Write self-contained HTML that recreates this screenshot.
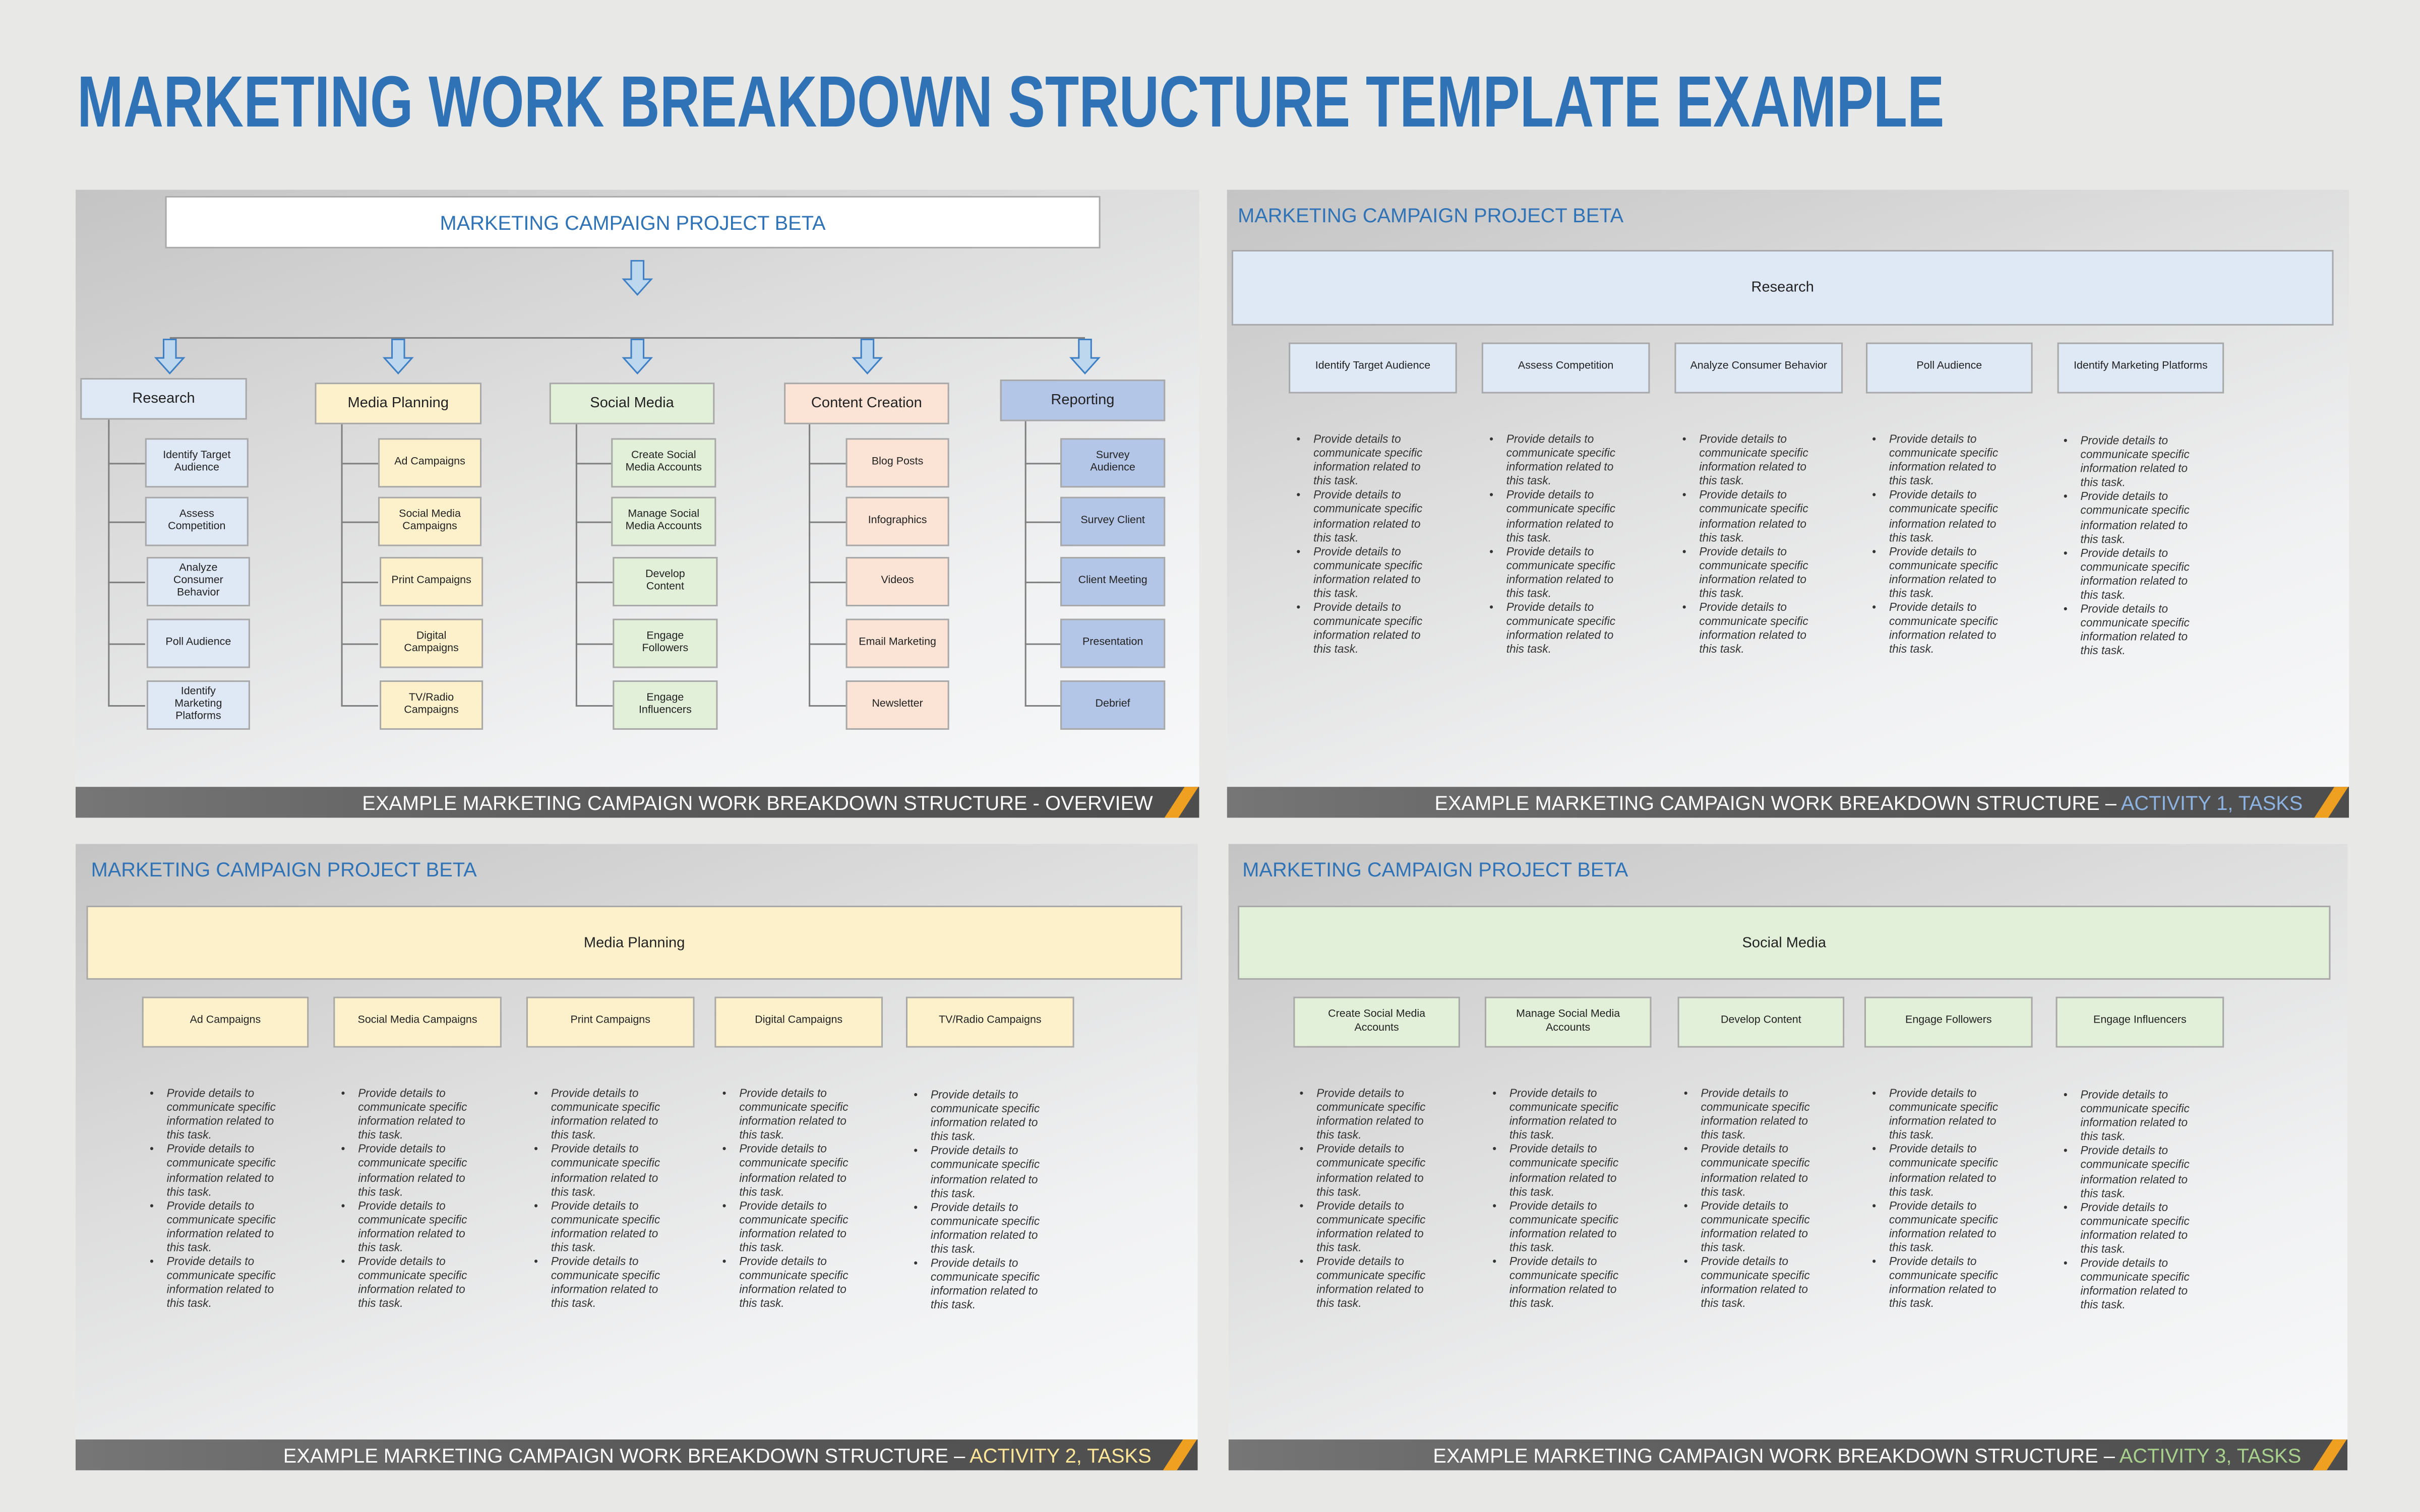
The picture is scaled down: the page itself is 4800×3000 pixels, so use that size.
<!DOCTYPE html>
<html><head><meta charset="utf-8">
<style>
html,body{margin:0;padding:0;width:4800px;height:3000px;overflow:hidden;background:#e8e8e6;}
#w{position:absolute;left:0;top:0;width:1568px;height:980px;transform:scale(3.0612245);transform-origin:0 0;font-family:"Liberation Sans",sans-serif;}
.a{position:absolute;}
.title{left:50px;top:38px;font-size:47px;font-weight:bold;color:#2f73b6;white-space:nowrap;transform:scaleX(0.765);transform-origin:0 0;}
.panel{position:absolute;background:linear-gradient(160deg,#c4c4c4 0%,#dcdcdc 35%,#f0f1f2 70%,#f8f9fa 100%);overflow:hidden;}
.foot{position:absolute;left:0;right:0;bottom:0;height:20px;background:linear-gradient(90deg,#767676 0%,#5a5a5a 50%,#4d4d4d 100%);}
.foot .t{position:absolute;right:30px;top:3px;color:#fff;font-size:13px;white-space:nowrap;line-height:15px;}
.foot .o{position:absolute;right:7px;top:0;width:9px;height:20px;background:#f0a020;transform:skewX(-33deg);}
.box{position:absolute;border:1px solid #a8a8a8;box-sizing:border-box;display:flex;align-items:center;justify-content:center;text-align:center;color:#222;}
.blue{background:#dfe8f5;}.yel{background:#fdf1cc;}.grn{background:#e2efd9;}.org{background:#fbe4d5;}.rep{background:#b4c6e7;}
.cat{font-size:9.5px;}
.ch{font-size:7px;line-height:8.2px;}
.tch{font-size:7px;line-height:8.2px;}
.ln{position:absolute;background:#7f7f7f;}
.pt{position:absolute;color:#2f73b6;font-size:13px;white-space:nowrap;}
ul.b{position:absolute;margin:0;padding:0 0 0 0;list-style:none;font-style:italic;font-size:7.4px;line-height:9.1px;color:#333;white-space:nowrap;}
ul.b li{position:relative;}
ul.b li:before{content:"\2022";position:absolute;left:-11px;top:0;font-style:normal;}
</style></head><body><div id="w">
<div class="a title">MARKETING WORK BREAKDOWN STRUCTURE TEMPLATE EXAMPLE</div>

<!-- Panel 1 -->
<div class="panel" style="left:49px;top:123px;width:728px;height:407px;">
 <div class="box" style="left:58px;top:4px;width:606px;height:34px;background:#fff;color:#2f73b6;font-size:13px;">MARKETING CAMPAIGN PROJECT BETA</div>
 <svg class="a" style="left:0;top:0" width="728" height="407">
  <defs><g id="ar"><path d="M-4,0 H4 V12 H9 L0,22 L-9,12 H-4 Z" fill="#bdd7ee" stroke="#3f7fc4" stroke-width="1"/></g></defs>
  <use href="#ar" x="364" y="46"/>
  <line x1="61" y1="96" x2="654" y2="96" stroke="#7f7f7f" stroke-width="1"/>
  <use href="#ar" x="61" y="97"/>
  <use href="#ar" x="209" y="97"/>
  <use href="#ar" x="364" y="97"/>
  <use href="#ar" x="513" y="97"/>
  <use href="#ar" x="654" y="97"/>
 </svg>
 <div class="box blue cat" style="left:3px;top:122px;width:108px;height:27px;">Research</div>
 <div class="box yel cat" style="left:155px;top:125px;width:108px;height:27px;">Media Planning</div>
 <div class="box grn cat" style="left:307px;top:125px;width:107px;height:27px;">Social Media</div>
 <div class="box org cat" style="left:459px;top:125px;width:107px;height:27px;">Content Creation</div>
 <div class="box rep cat" style="left:599px;top:123px;width:107px;height:27px;">Reporting</div>

 <div class="ln" style="left:21px;top:149px;width:1px;height:186px;"></div>
 <div class="ln" style="left:172px;top:152px;width:1px;height:183px;"></div>
 <div class="ln" style="left:324px;top:152px;width:1px;height:183px;"></div>
 <div class="ln" style="left:475px;top:152px;width:1px;height:183px;"></div>
 <div class="ln" style="left:615px;top:150px;width:1px;height:185px;"></div>
 <div class="ln" style="left:21px;top:177px;width:24px;height:1px;"></div>
 <div class="ln" style="left:21px;top:215px;width:24px;height:1px;"></div>
 <div class="ln" style="left:21px;top:254px;width:24px;height:1px;"></div>
 <div class="ln" style="left:21px;top:294px;width:24px;height:1px;"></div>
 <div class="ln" style="left:21px;top:334px;width:24px;height:1px;"></div>
 <div class="ln" style="left:172px;top:177px;width:24px;height:1px;"></div>
 <div class="ln" style="left:172px;top:215px;width:24px;height:1px;"></div>
 <div class="ln" style="left:172px;top:254px;width:24px;height:1px;"></div>
 <div class="ln" style="left:172px;top:294px;width:24px;height:1px;"></div>
 <div class="ln" style="left:172px;top:334px;width:24px;height:1px;"></div>
 <div class="ln" style="left:324px;top:177px;width:24px;height:1px;"></div>
 <div class="ln" style="left:324px;top:215px;width:24px;height:1px;"></div>
 <div class="ln" style="left:324px;top:254px;width:24px;height:1px;"></div>
 <div class="ln" style="left:324px;top:294px;width:24px;height:1px;"></div>
 <div class="ln" style="left:324px;top:334px;width:24px;height:1px;"></div>
 <div class="ln" style="left:475px;top:177px;width:24px;height:1px;"></div>
 <div class="ln" style="left:475px;top:215px;width:24px;height:1px;"></div>
 <div class="ln" style="left:475px;top:254px;width:24px;height:1px;"></div>
 <div class="ln" style="left:475px;top:294px;width:24px;height:1px;"></div>
 <div class="ln" style="left:475px;top:334px;width:24px;height:1px;"></div>
 <div class="ln" style="left:615px;top:177px;width:24px;height:1px;"></div>
 <div class="ln" style="left:615px;top:215px;width:24px;height:1px;"></div>
 <div class="ln" style="left:615px;top:254px;width:24px;height:1px;"></div>
 <div class="ln" style="left:615px;top:294px;width:24px;height:1px;"></div>
 <div class="ln" style="left:615px;top:334px;width:24px;height:1px;"></div>

 <div class="box blue ch" style="left:45px;top:161px;width:67px;height:32px;">Identify Target<br>Audience</div>
 <div class="box blue ch" style="left:45px;top:199px;width:67px;height:32px;">Assess<br>Competition</div>
 <div class="box blue ch" style="left:46px;top:238px;width:67px;height:32px;">Analyze<br>Consumer<br>Behavior</div>
 <div class="box blue ch" style="left:46px;top:278px;width:67px;height:32px;">Poll Audience</div>
 <div class="box blue ch" style="left:46px;top:318px;width:67px;height:32px;">Identify<br>Marketing<br>Platforms</div>

 <div class="box yel ch" style="left:196px;top:161px;width:67px;height:32px;">Ad Campaigns</div>
 <div class="box yel ch" style="left:196px;top:199px;width:67px;height:32px;">Social Media<br>Campaigns</div>
 <div class="box yel ch" style="left:197px;top:238px;width:67px;height:32px;">Print Campaigns</div>
 <div class="box yel ch" style="left:197px;top:278px;width:67px;height:32px;">Digital<br>Campaigns</div>
 <div class="box yel ch" style="left:197px;top:318px;width:67px;height:32px;">TV/Radio<br>Campaigns</div>

 <div class="box grn ch" style="left:347px;top:161px;width:68px;height:32px;">Create Social<br>Media Accounts</div>
 <div class="box grn ch" style="left:347px;top:199px;width:68px;height:32px;">Manage Social<br>Media Accounts</div>
 <div class="box grn ch" style="left:348px;top:238px;width:68px;height:32px;">Develop<br>Content</div>
 <div class="box grn ch" style="left:348px;top:278px;width:68px;height:32px;">Engage<br>Followers</div>
 <div class="box grn ch" style="left:348px;top:318px;width:68px;height:32px;">Engage<br>Influencers</div>

 <div class="box org ch" style="left:499px;top:161px;width:67px;height:32px;">Blog Posts</div>
 <div class="box org ch" style="left:499px;top:199px;width:67px;height:32px;">Infographics</div>
 <div class="box org ch" style="left:499px;top:238px;width:67px;height:32px;">Videos</div>
 <div class="box org ch" style="left:499px;top:278px;width:67px;height:32px;">Email Marketing</div>
 <div class="box org ch" style="left:499px;top:318px;width:67px;height:32px;">Newsletter</div>

 <div class="box rep ch" style="left:638px;top:161px;width:68px;height:32px;">Survey<br>Audience</div>
 <div class="box rep ch" style="left:638px;top:199px;width:68px;height:32px;">Survey Client</div>
 <div class="box rep ch" style="left:638px;top:238px;width:68px;height:32px;">Client Meeting</div>
 <div class="box rep ch" style="left:638px;top:278px;width:68px;height:32px;">Presentation</div>
 <div class="box rep ch" style="left:638px;top:318px;width:68px;height:32px;">Debrief</div>

 <div class="foot"><div class="t">EXAMPLE MARKETING CAMPAIGN WORK BREAKDOWN STRUCTURE - OVERVIEW</div><div class="o"></div></div>
</div>

<!-- Panel 2 -->
<div class="panel" style="left:795px;top:123px;width:727px;height:407px;">
 <div class="pt" style="left:7px;top:9px;">MARKETING CAMPAIGN PROJECT BETA</div>
 <div class="box blue" style="left:3px;top:39px;width:714px;height:49px;font-size:9.5px;">Research</div>
 <div class="box blue tch" style="left:40px;top:99px;width:109px;height:33px;">Identify Target Audience</div>
 <div class="box blue tch" style="left:165px;top:99px;width:109px;height:33px;">Assess Competition</div>
 <div class="box blue tch" style="left:290px;top:99px;width:109px;height:33px;">Analyze Consumer Behavior</div>
 <div class="box blue tch" style="left:414px;top:99px;width:108px;height:33px;">Poll Audience</div>
 <div class="box blue tch" style="left:538px;top:99px;width:108px;height:33px;">Identify Marketing Platforms</div>
 <ul class="b" style="left:56px;top:157px;"><li>Provide details to<br>communicate specific<br>information related to<br>this task.</li><li>Provide details to<br>communicate specific<br>information related to<br>this task.</li><li>Provide details to<br>communicate specific<br>information related to<br>this task.</li><li>Provide details to<br>communicate specific<br>information related to<br>this task.</li></ul>
 <ul class="b" style="left:181px;top:157px;"><li>Provide details to<br>communicate specific<br>information related to<br>this task.</li><li>Provide details to<br>communicate specific<br>information related to<br>this task.</li><li>Provide details to<br>communicate specific<br>information related to<br>this task.</li><li>Provide details to<br>communicate specific<br>information related to<br>this task.</li></ul>
 <ul class="b" style="left:306px;top:157px;"><li>Provide details to<br>communicate specific<br>information related to<br>this task.</li><li>Provide details to<br>communicate specific<br>information related to<br>this task.</li><li>Provide details to<br>communicate specific<br>information related to<br>this task.</li><li>Provide details to<br>communicate specific<br>information related to<br>this task.</li></ul>
 <ul class="b" style="left:429px;top:157px;"><li>Provide details to<br>communicate specific<br>information related to<br>this task.</li><li>Provide details to<br>communicate specific<br>information related to<br>this task.</li><li>Provide details to<br>communicate specific<br>information related to<br>this task.</li><li>Provide details to<br>communicate specific<br>information related to<br>this task.</li></ul>
 <ul class="b" style="left:553px;top:158px;"><li>Provide details to<br>communicate specific<br>information related to<br>this task.</li><li>Provide details to<br>communicate specific<br>information related to<br>this task.</li><li>Provide details to<br>communicate specific<br>information related to<br>this task.</li><li>Provide details to<br>communicate specific<br>information related to<br>this task.</li></ul>
 <div class="foot"><div class="t">EXAMPLE MARKETING CAMPAIGN WORK BREAKDOWN STRUCTURE – <span style="color:#8db3e2">ACTIVITY 1, TASKS</span></div><div class="o"></div></div>
</div>

<!-- Panel 3 -->
<div class="panel" style="left:49px;top:547px;width:727px;height:406px;">
 <div class="pt" style="left:10px;top:9px;">MARKETING CAMPAIGN PROJECT BETA</div>
 <div class="box yel" style="left:7px;top:40px;width:710px;height:48px;font-size:9.5px;">Media Planning</div>
 <div class="box yel tch" style="left:43px;top:99px;width:108px;height:33px;">Ad Campaigns</div>
 <div class="box yel tch" style="left:167px;top:99px;width:109px;height:33px;">Social Media Campaigns</div>
 <div class="box yel tch" style="left:292px;top:99px;width:109px;height:33px;">Print Campaigns</div>
 <div class="box yel tch" style="left:414px;top:99px;width:109px;height:33px;">Digital Campaigns</div>
 <div class="box yel tch" style="left:538px;top:99px;width:109px;height:33px;">TV/Radio Campaigns</div>
 <ul class="b" style="left:59px;top:157px;"><li>Provide details to<br>communicate specific<br>information related to<br>this task.</li><li>Provide details to<br>communicate specific<br>information related to<br>this task.</li><li>Provide details to<br>communicate specific<br>information related to<br>this task.</li><li>Provide details to<br>communicate specific<br>information related to<br>this task.</li></ul>
 <ul class="b" style="left:183px;top:157px;"><li>Provide details to<br>communicate specific<br>information related to<br>this task.</li><li>Provide details to<br>communicate specific<br>information related to<br>this task.</li><li>Provide details to<br>communicate specific<br>information related to<br>this task.</li><li>Provide details to<br>communicate specific<br>information related to<br>this task.</li></ul>
 <ul class="b" style="left:308px;top:157px;"><li>Provide details to<br>communicate specific<br>information related to<br>this task.</li><li>Provide details to<br>communicate specific<br>information related to<br>this task.</li><li>Provide details to<br>communicate specific<br>information related to<br>this task.</li><li>Provide details to<br>communicate specific<br>information related to<br>this task.</li></ul>
 <ul class="b" style="left:430px;top:157px;"><li>Provide details to<br>communicate specific<br>information related to<br>this task.</li><li>Provide details to<br>communicate specific<br>information related to<br>this task.</li><li>Provide details to<br>communicate specific<br>information related to<br>this task.</li><li>Provide details to<br>communicate specific<br>information related to<br>this task.</li></ul>
 <ul class="b" style="left:554px;top:158px;"><li>Provide details to<br>communicate specific<br>information related to<br>this task.</li><li>Provide details to<br>communicate specific<br>information related to<br>this task.</li><li>Provide details to<br>communicate specific<br>information related to<br>this task.</li><li>Provide details to<br>communicate specific<br>information related to<br>this task.</li></ul>
 <div class="foot"><div class="t">EXAMPLE MARKETING CAMPAIGN WORK BREAKDOWN STRUCTURE – <span style="color:#ffe699">ACTIVITY 2, TASKS</span></div><div class="o"></div></div>
</div>

<!-- Panel 4 -->
<div class="panel" style="left:796px;top:547px;width:725px;height:406px;">
 <div class="pt" style="left:9px;top:9px;">MARKETING CAMPAIGN PROJECT BETA</div>
 <div class="box grn" style="left:6px;top:40px;width:708px;height:48px;font-size:9.5px;">Social Media</div>
 <div class="box grn tch" style="left:42px;top:99px;width:108px;height:33px;">Create Social Media<br>Accounts</div>
 <div class="box grn tch" style="left:166px;top:99px;width:108px;height:33px;">Manage Social Media<br>Accounts</div>
 <div class="box grn tch" style="left:291px;top:99px;width:108px;height:33px;">Develop Content</div>
 <div class="box grn tch" style="left:412px;top:99px;width:109px;height:33px;">Engage Followers</div>
 <div class="box grn tch" style="left:536px;top:99px;width:109px;height:33px;">Engage Influencers</div>
 <ul class="b" style="left:57px;top:157px;"><li>Provide details to<br>communicate specific<br>information related to<br>this task.</li><li>Provide details to<br>communicate specific<br>information related to<br>this task.</li><li>Provide details to<br>communicate specific<br>information related to<br>this task.</li><li>Provide details to<br>communicate specific<br>information related to<br>this task.</li></ul>
 <ul class="b" style="left:182px;top:157px;"><li>Provide details to<br>communicate specific<br>information related to<br>this task.</li><li>Provide details to<br>communicate specific<br>information related to<br>this task.</li><li>Provide details to<br>communicate specific<br>information related to<br>this task.</li><li>Provide details to<br>communicate specific<br>information related to<br>this task.</li></ul>
 <ul class="b" style="left:306px;top:157px;"><li>Provide details to<br>communicate specific<br>information related to<br>this task.</li><li>Provide details to<br>communicate specific<br>information related to<br>this task.</li><li>Provide details to<br>communicate specific<br>information related to<br>this task.</li><li>Provide details to<br>communicate specific<br>information related to<br>this task.</li></ul>
 <ul class="b" style="left:428px;top:157px;"><li>Provide details to<br>communicate specific<br>information related to<br>this task.</li><li>Provide details to<br>communicate specific<br>information related to<br>this task.</li><li>Provide details to<br>communicate specific<br>information related to<br>this task.</li><li>Provide details to<br>communicate specific<br>information related to<br>this task.</li></ul>
 <ul class="b" style="left:552px;top:158px;"><li>Provide details to<br>communicate specific<br>information related to<br>this task.</li><li>Provide details to<br>communicate specific<br>information related to<br>this task.</li><li>Provide details to<br>communicate specific<br>information related to<br>this task.</li><li>Provide details to<br>communicate specific<br>information related to<br>this task.</li></ul>
 <div class="foot"><div class="t">EXAMPLE MARKETING CAMPAIGN WORK BREAKDOWN STRUCTURE – <span style="color:#a9d18e">ACTIVITY 3, TASKS</span></div><div class="o"></div></div>
</div>
</div></body></html>
